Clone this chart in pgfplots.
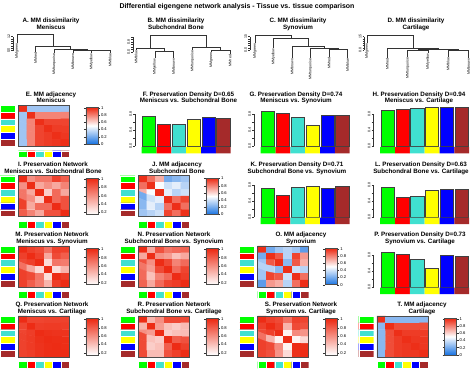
\documentclass[border=0pt]{standalone}
\usepackage{fontspec}
\setmainfont{Liberation Sans}
\usepackage{pgfplots}
\usepackage{pgfplotstable}
\pgfplotsset{compat=1.18}

\definecolor{cg}{RGB}{0,255,0}
\definecolor{cr}{RGB}{255,0,0}
\definecolor{ct}{RGB}{64,224,208}
\definecolor{cy}{RGB}{255,255,0}
\definecolor{cb}{RGB}{0,0,255}
\definecolor{cbr}{RGB}{165,42,42}

\newcommand\tk{\fontsize{3.6}{4}\selectfont}
\newcommand\cbf{\fontsize{4.2}{5}\selectfont}
\newcommand\ptf{\fontsize{6.3}{7}\selectfont\bfseries}
\newcommand\mtf{\fontsize{7}{8}\selectfont\bfseries}

\pgfplotsset{
 colormap={bwr}{rgb255=(25,115,225) rgb255=(255,255,255) rgb255=(236,38,14)},
 colormap={wr}{rgb255=(255,255,255) rgb255=(236,38,14)},
 heat/.style={scale only axis, width=51bp, height=40.8bp, xmin=0.5, xmax=6.5, ymin=0.5, ymax=6.5,
   y dir=reverse, xtick=\empty, ytick=\empty, clip=false, axis on top, anchor=north west,
   axis line style={draw=black!70, line width=0.45bp},
   colorbar,
   colorbar style={at={(parent axis.east)}, anchor=west, xshift=8bp, scale only axis,
     width=12bp, height=36.6bp, y dir=normal, axis line style={draw=black!70, line width=0.45bp},
     ytick align=outside, major tick length=2bp, tick style={black!80, line width=0.35bp},
     yticklabel style={font=\cbf, inner sep=1bp}, axis on top}},
 adj/.style={heat, colormap name=bwr, point meta min=0, point meta max=1.02,
   colorbar style={ytick={0,0.2,0.4,0.6,0.8,1}, yticklabels={0,0.2,0.4,0.6,0.8,1}}},
 pres/.style={heat, colormap name=wr, point meta min=0.15, point meta max=1.03,
   colorbar style={ytick={0.2,0.4,0.6,0.8,1}, yticklabels={0.2,0.4,0.6,0.8,1}}},
 barax/.style={scale only axis, anchor=south west, width=95.7bp, height=32bp,
   xmin=0.05, xmax=6.5, ymin=0, ymax=0.8, clip=false, axis x line=none, axis y line*=left,
   axis line style={draw=black!80, line width=0.35bp, -},
   ytick={0,0.2,0.4,0.6,0.8}, yticklabels={0.0,,0.4,,0.8},
   yticklabel style={rotate=90, anchor=south, font=\tk, inner sep=1bp},
   tick align=outside, major tick length=1.8bp, tick style={black!80, line width=0.35bp}},
 bst/.style={ybar, bar width=0.887, bar shift=0pt, draw=black!75, line width=0.6bp},
 dendro/.style={scale only axis, anchor=south west, clip=false, axis x line=none, axis y line*=left,
   axis line style={draw=black!80, line width=0.35bp, -}, ymin=0,
   tick align=outside, major tick length=1.5bp, tick style={black!80, line width=0.3bp},
   yticklabel style={rotate=90, anchor=south, font=\tk, inner sep=1bp}},
 dl/.style={black!80, line width=0.35bp, mark=none},
}

% ---- heatmap matrices: column j, value c; rows in order green, red, turquoise, yellow, blue, brown
\pgfplotstableread[row sep=\\]{j c\\
1 1\\ 2 0.3\\ 3 0.3\\ 4 0.3\\ 5 0.3\\ 6 0.3\\
1 0.3\\ 2 1\\ 3 0.8\\ 4 0.8\\ 5 0.8\\ 6 0.8\\
1 0.3\\ 2 0.8\\ 3 1\\ 4 0.95\\ 5 0.95\\ 6 0.95\\
1 0.3\\ 2 0.8\\ 3 0.95\\ 4 1\\ 5 0.97\\ 6 0.97\\
1 0.3\\ 2 0.8\\ 3 0.95\\ 4 0.97\\ 5 1\\ 6 0.98\\
1 0.3\\ 2 0.8\\ 3 0.95\\ 4 0.97\\ 5 0.98\\ 6 1\\
}\matE
\pgfplotstableread[row sep=\\]{j c\\
1 1\\ 2 0.85\\ 3 0.7\\ 4 0.2\\ 5 0.25\\ 6 0.3\\
1 0.85\\ 2 1\\ 3 0.5\\ 4 0.4\\ 5 0.45\\ 6 0.35\\
1 0.7\\ 2 0.5\\ 3 1\\ 4 0.45\\ 5 0.35\\ 6 0.4\\
1 0.2\\ 2 0.4\\ 3 0.45\\ 4 1\\ 5 0.85\\ 6 0.95\\
1 0.25\\ 2 0.45\\ 3 0.35\\ 4 0.85\\ 5 1\\ 6 0.85\\
1 0.3\\ 2 0.35\\ 3 0.4\\ 4 0.95\\ 5 0.85\\ 6 1\\
}\matJ
\pgfplotstableread[row sep=\\]{j c\\
1 1\\ 2 0.2\\ 3 0.3\\ 4 0.35\\ 5 0.3\\ 6 0.15\\
1 0.2\\ 2 1\\ 3 0.9\\ 4 0.35\\ 5 0.95\\ 6 0.75\\
1 0.3\\ 2 0.9\\ 3 1\\ 4 0.25\\ 5 0.9\\ 6 0.7\\
1 0.35\\ 2 0.35\\ 3 0.25\\ 4 1\\ 5 0.4\\ 6 0.35\\
1 0.3\\ 2 0.95\\ 3 0.9\\ 4 0.4\\ 5 1\\ 6 0.85\\
1 0.15\\ 2 0.75\\ 3 0.7\\ 4 0.35\\ 5 0.85\\ 6 1\\
}\matO
\pgfplotstableread[row sep=\\]{j c\\
1 1\\ 2 0.25\\ 3 0.25\\ 4 0.25\\ 5 0.25\\ 6 0.25\\
1 0.25\\ 2 1\\ 3 0.93\\ 4 0.93\\ 5 0.93\\ 6 0.93\\
1 0.25\\ 2 0.93\\ 3 1\\ 4 0.97\\ 5 0.97\\ 6 0.97\\
1 0.25\\ 2 0.93\\ 3 0.97\\ 4 1\\ 5 0.98\\ 6 0.98\\
1 0.25\\ 2 0.93\\ 3 0.97\\ 4 0.98\\ 5 1\\ 6 0.98\\
1 0.25\\ 2 0.93\\ 3 0.97\\ 4 0.98\\ 5 0.98\\ 6 1\\
}\matT
\pgfplotstableread[row sep=\\]{j c\\
1 1\\ 2 0.6\\ 3 0.7\\ 4 0.7\\ 5 0.92\\ 6 0.8\\
1 0.6\\ 2 1\\ 3 0.5\\ 4 0.6\\ 5 0.5\\ 6 0.65\\
1 0.7\\ 2 0.5\\ 3 1\\ 4 0.35\\ 5 0.75\\ 6 0.5\\
1 0.7\\ 2 0.6\\ 3 0.35\\ 4 1\\ 5 0.75\\ 6 0.85\\
1 0.92\\ 2 0.5\\ 3 0.75\\ 4 0.75\\ 5 1\\ 6 0.85\\
1 0.8\\ 2 0.65\\ 3 0.5\\ 4 0.85\\ 5 0.85\\ 6 1\\
}\matI
\pgfplotstableread[row sep=\\]{j c\\
1 1\\ 2 0.92\\ 3 0.88\\ 4 0.72\\ 5 0.92\\ 6 0.92\\
1 0.92\\ 2 1\\ 3 0.92\\ 4 0.5\\ 5 0.88\\ 6 0.8\\
1 0.88\\ 2 0.92\\ 3 1\\ 4 0.3\\ 5 0.7\\ 6 0.68\\
1 0.72\\ 2 0.5\\ 3 0.3\\ 4 1\\ 5 0.28\\ 6 0.45\\
1 0.92\\ 2 0.88\\ 3 0.7\\ 4 0.28\\ 5 1\\ 6 0.93\\
1 0.92\\ 2 0.8\\ 3 0.68\\ 4 0.45\\ 5 0.93\\ 6 1\\
}\matM
\pgfplotstableread[row sep=\\]{j c\\
1 1\\ 2 0.5\\ 3 0.85\\ 4 0.7\\ 5 0.75\\ 6 0.78\\
1 0.5\\ 2 1\\ 3 0.6\\ 4 0.55\\ 5 0.4\\ 6 0.5\\
1 0.85\\ 2 0.6\\ 3 1\\ 4 0.88\\ 5 0.65\\ 6 0.75\\
1 0.7\\ 2 0.55\\ 3 0.88\\ 4 1\\ 5 0.75\\ 6 0.9\\
1 0.75\\ 2 0.4\\ 3 0.65\\ 4 0.75\\ 5 1\\ 6 0.93\\
1 0.78\\ 2 0.5\\ 3 0.75\\ 4 0.9\\ 5 0.93\\ 6 1\\
}\matN
\pgfplotstableread[row sep=\\]{j c\\
1 1\\ 2 0.9\\ 3 0.9\\ 4 0.91\\ 5 0.91\\ 6 0.91\\
1 0.9\\ 2 1\\ 3 0.93\\ 4 0.94\\ 5 0.94\\ 6 0.93\\
1 0.9\\ 2 0.93\\ 3 1\\ 4 0.98\\ 5 0.97\\ 6 0.97\\
1 0.91\\ 2 0.94\\ 3 0.98\\ 4 1\\ 5 0.99\\ 6 0.99\\
1 0.91\\ 2 0.94\\ 3 0.97\\ 4 0.99\\ 5 1\\ 6 0.99\\
1 0.91\\ 2 0.93\\ 3 0.97\\ 4 0.99\\ 5 0.99\\ 6 1\\
}\matQ
\pgfplotstableread[row sep=\\]{j c\\
1 1\\ 2 0.45\\ 3 0.6\\ 4 0.88\\ 5 0.88\\ 6 0.88\\
1 0.45\\ 2 1\\ 3 0.55\\ 4 0.4\\ 5 0.35\\ 6 0.42\\
1 0.6\\ 2 0.55\\ 3 1\\ 4 0.35\\ 5 0.4\\ 6 0.42\\
1 0.88\\ 2 0.4\\ 3 0.35\\ 4 1\\ 5 0.8\\ 6 0.85\\
1 0.88\\ 2 0.35\\ 3 0.4\\ 4 0.8\\ 5 1\\ 6 0.92\\
1 0.88\\ 2 0.42\\ 3 0.42\\ 4 0.85\\ 5 0.92\\ 6 1\\
}\matR
\pgfplotstableread[row sep=\\]{j c\\
1 1\\ 2 0.92\\ 3 0.88\\ 4 0.72\\ 5 0.92\\ 6 0.9\\
1 0.92\\ 2 1\\ 3 0.92\\ 4 0.45\\ 5 0.88\\ 6 0.85\\
1 0.88\\ 2 0.92\\ 3 1\\ 4 0.2\\ 5 0.62\\ 6 0.58\\
1 0.72\\ 2 0.45\\ 3 0.2\\ 4 1\\ 5 0.2\\ 6 0.3\\
1 0.92\\ 2 0.88\\ 3 0.62\\ 4 0.2\\ 5 1\\ 6 0.98\\
1 0.9\\ 2 0.85\\ 3 0.58\\ 4 0.3\\ 5 0.98\\ 6 1\\
}\matS

\newcommand\rect[5]{\addplot[fill=#5, draw=white, line width=0.3bp] coordinates {(#1,#3) (#2,#3) (#2,#4) (#1,#4) (#1,#3)};}
\newcommand\rectn[5]{\addplot[fill=#5, draw=none] coordinates {(#1,#3) (#2,#3) (#2,#4) (#1,#4) (#1,#3)};}

\newcommand\heatstrips{%
\rect{-1.653}{0.112}{0.5}{1.5}{cg}
\rect{-1.653}{0.112}{1.5}{2.5}{cr}
\rect{-1.653}{0.112}{2.5}{3.5}{ct}
\rect{-1.653}{0.112}{3.5}{4.5}{cy}
\rect{-1.653}{0.112}{4.5}{5.5}{cb}
\rect{-1.653}{0.112}{5.5}{6.5}{cbr}
\rect{0.5}{1.5}{7.19}{8.18}{cg}
\rect{1.5}{2.5}{7.19}{8.18}{cr}
\rect{2.5}{3.5}{7.19}{8.18}{ct}
\rect{3.5}{4.5}{7.19}{8.18}{cy}
\rect{4.5}{5.5}{7.19}{8.18}{cb}
\rect{5.5}{6.5}{7.19}{8.18}{cbr}}

\newcommand\barstrips{%
\rectn{0.5}{1.5}{-0.02}{-0.185}{cg}
\rectn{1.5}{2.5}{-0.02}{-0.185}{cr}
\rectn{2.5}{3.5}{-0.02}{-0.185}{ct}
\rectn{3.5}{4.5}{-0.02}{-0.185}{cy}
\rectn{4.5}{5.5}{-0.02}{-0.185}{cb}
\rectn{5.5}{6.5}{-0.02}{-0.185}{cbr}}

\newcommand\heat[4]{%
\begin{axis}[#1, at={(#2bp,-#3bp)}]
\addplot[matrix plot*, mesh/cols=6, point meta=explicit] table[x=j, y expr={floor(\coordindex/6)+1}, meta=c] {#4};
\heatstrips
\end{axis}}

\newcommand\bars[8]{%
\begin{axis}[barax, at={(#1bp,-#2bp)}]
\addplot[bst, fill=cg] coordinates {(1,#3)};
\addplot[bst, fill=cr] coordinates {(2,#4)};
\addplot[bst, fill=ct] coordinates {(3,#5)};
\addplot[bst, fill=cy] coordinates {(4,#6)};
\addplot[bst, fill=cb] coordinates {(5,#7)};
\addplot[bst, fill=cbr] coordinates {(6,#8)};
\barstrips
\end{axis}}

\newcommand\ttl[5]{%
\node[font=\ptf, anchor=base, inner sep=0pt] at (#1bp,-#2bp) {#4};
\node[font=\ptf, anchor=base, inner sep=0pt] at (#1bp,-#3bp) {#5};}

\newcommand\lf[3]{\node[rotate=90, anchor=east, font=\tk, inner sep=0.4bp] at (axis cs:#1,#2) {#3};}

\begin{document}
\begin{tikzpicture}
\path[use as bounding box] (0,0) rectangle (474bp,-370bp);
\node[font=\mtf, anchor=base, inner sep=0pt] at (237bp,-8.3bp) {Differential eigengene network analysis - Tissue vs. tissue comparison};

% ---------- titles
\ttl{51}{22.8}{29.2}{A. MM dissimilarity}{Meniscus}
\ttl{176}{22.8}{29.2}{B. MM dissimilarity}{Subchondral Bone}
\ttl{298}{22.8}{29.2}{C. MM dissimilarity}{Synovium}
\ttl{416}{22.8}{29.2}{D. MM dissimilarity}{Cartilage}
\ttl{51}{96}{102.6}{E. MM adjacency}{Meniscus}
\ttl{188.5}{96}{102.6}{F. Preservation Density D=0.65}{Meniscus vs. Subchondral Bone}
\ttl{296}{96}{102.6}{G. Preservation Density D=0.74}{Meniscus vs. Synovium}
\ttl{419}{96}{102.6}{H. Preservation Density D=0.94}{Meniscus vs. Cartilage}
\ttl{53}{166.5}{173}{I. Preservation Network}{Meniscus vs. Subchondral Bone}
\ttl{177}{166.5}{173}{J. MM adjacency}{Subchondral Bone}
\ttl{297}{166.5}{173}{K. Preservation Density D=0.71}{Subchondral Bone vs. Synovium}
\ttl{421}{166.5}{173}{L. Preservation Density D=0.63}{Subchondral Bone vs. Cartilage}
\ttl{52}{236.8}{243.3}{M. Preservation Network}{Meniscus vs. Synovium}
\ttl{174}{236.8}{243.3}{N. Preservation Network}{Subchondral Bone vs. Synovium}
\ttl{301}{236.8}{243.3}{O. MM adjacency}{Synovium}
\ttl{420}{236.8}{243.3}{P. Preservation Density D=0.73}{Synovium vs. Cartilage}
\ttl{52}{306.9}{313.3}{Q. Preservation Network}{Meniscus vs. Cartilage}
\ttl{174}{306.9}{313.3}{R. Preservation Network}{Subchondral Bone vs. Cartilage}
\ttl{301}{306.9}{313.3}{S. Preservation Network}{Synovium vs. Cartilage}
\ttl{422}{306.9}{313.3}{T. MM adjacency}{Cartilage}

% ---------- dendrograms
\begin{axis}[dendro, at={(12.7bp,-50.5bp)}, xmin=0.77, xmax=6, width=97.3bp, ymax=1.2, height=14bp,
  ytick={0,0.2,0.4,0.6,0.8,1,1.2}, yticklabels={0.0,,,,,,1.2}]
\addplot[dl] coordinates {(5,-0.22)(5,0.02)(6,0.02)(6,-0.22)};
\addplot[dl] coordinates {(4,-0.22)(4,0.05)(5.5,0.05)(5.5,0.02)};
\addplot[dl] coordinates {(3,-0.22)(3,0.10)(4.75,0.10)(4.75,0.05)};
\addplot[dl] coordinates {(2,-0.12)(2,0.33)(3.875,0.33)(3.875,0.10)};
\addplot[dl] coordinates {(1,0.64)(1,1.39)(2.9375,1.39)(2.9375,0.33)};
\lf{1}{0.64}{MMgreen}\lf{2}{-0.12}{MMred}\lf{3}{-0.22}{MMturquoise}
\lf{4}{-0.22}{MMbrown}\lf{5}{-0.22}{MMyellow}\lf{6}{-0.22}{MMblue}
\end{axis}

\begin{axis}[dendro, at={(132.7bp,-52bp)}, xmin=0.824, xmax=6, width=97.3bp, ymax=1.2, height=15bp,
  ytick={0,0.2,0.4,0.6,0.8,1,1.2}, yticklabels={0.0,,,,0.8,,}]
\addplot[dl] coordinates {(2,-0.5)(2,0.05)(3,0.05)(3,-0.5)};
\addplot[dl] coordinates {(1,0.16)(1,0.3)(2.5,0.3)(2.5,0.05)};
\addplot[dl] coordinates {(5,0.02)(5,0.16)(6,0.16)(6,-0.18)};
\addplot[dl] coordinates {(4,0.16)(4,0.42)(5.5,0.42)(5.5,0.16)};
\addplot[dl] coordinates {(1.75,0.3)(1.75,1.36)(4.75,1.36)(4.75,0.42)};
\lf{1}{0.16}{MMblue}\lf{2}{-0.5}{MMyellow}\lf{3}{-0.5}{MMbrown}
\lf{4}{0.16}{MMturquoise}\lf{5}{0.02}{MMgreen}\lf{6}{-0.18}{MMred}
\end{axis}

\begin{axis}[dendro, at={(249.7bp,-50bp)}, xmin=0.714, xmax=6, width=97.8bp, ymax=1.5, height=13.5bp,
  ytick={0,0.25,0.5,0.75,1,1.25,1.5}, yticklabels={0.0,,,,,,1.5}]
\addplot[dl] coordinates {(5,-0.78)(5,0.08)(6,0.08)(6,-0.89)};
\addplot[dl] coordinates {(4,-0.89)(4,0.19)(5.5,0.19)(5.5,0.08)};
\addplot[dl] coordinates {(3,-0.89)(3,0.48)(4.75,0.48)(4.75,0.19)};
\addplot[dl] coordinates {(2,0.22)(2,1.3)(3.875,1.3)(3.875,0.48)};
\addplot[dl] coordinates {(1,0.78)(1,1.67)(2.9375,1.67)(2.9375,1.3)};
\lf{1}{0.78}{MMgreen}\lf{2}{0.22}{MMyellow}\lf{3}{-0.89}{MMbrown}
\lf{4}{-0.89}{MMturquoise}\lf{5}{-0.78}{MMred}\lf{6}{-0.89}{MMblue}
\end{axis}

\begin{axis}[dendro, at={(364bp,-50bp)}, xmin=0.852, xmax=6, width=104.5bp, ymax=1.5, height=13.5bp,
  ytick={0,0.25,0.5,0.75,1,1.25,1.5}, yticklabels={0.0,,,,,,1.5}]
\addplot[dl] coordinates {(3,-0.78)(3,0.02)(4,0.02)(4,-0.33)};
\addplot[dl] coordinates {(5,-0.78)(5,0.02)(6,0.02)(6,-0.89)};
\addplot[dl] coordinates {(3.5,0.02)(3.5,0.06)(5.5,0.06)(5.5,0.02)};
\addplot[dl] coordinates {(2,-0.89)(2,0.19)(4.5,0.19)(4.5,0.06)};
\addplot[dl] coordinates {(1,0.78)(1,1.67)(3.25,1.67)(3.25,0.19)};
\lf{1}{0.78}{MMgreen}\lf{2}{-0.89}{MMred}\lf{3}{-0.78}{MMturquoise}
\lf{4}{-0.33}{MMyellow}\lf{5}{-0.78}{MMblue}\lf{6}{-0.89}{MMbrown}
\end{axis}

% ---------- heatmaps
\heat{adj}{18.3}{105.2}{\matE}
\heat{pres}{18.3}{175.7}{\matI}
\heat{adj}{138.3}{175.7}{\matJ}
\heat{pres}{18.3}{246}{\matM}
\heat{pres}{138.3}{246}{\matN}
\heat{adj}{257.7}{246}{\matO}
\heat{pres}{18.3}{316.1}{\matQ}
\heat{pres}{138.3}{316.1}{\matR}
\heat{pres}{257.7}{316.1}{\matS}
\heat{adj}{377}{316.1}{\matT}

% ---------- preservation density bars
\bars{135}{146}{0.75}{0.55}{0.55}{0.67}{0.72}{0.69}
\bars{254}{146}{0.875}{0.82}{0.72}{0.525}{0.76}{0.76}
\bars{373.5}{146}{0.90}{0.925}{0.95}{0.97}{0.97}{0.97}
\bars{254}{216.8}{0.72}{0.55}{0.75}{0.76}{0.71}{0.77}
\bars{373.5}{216.8}{0.75}{0.485}{0.51}{0.675}{0.69}{0.69}
\bars{373.5}{286.8}{0.87}{0.82}{0.68}{0.47}{0.78}{0.76}
\end{tikzpicture}
\end{document}
